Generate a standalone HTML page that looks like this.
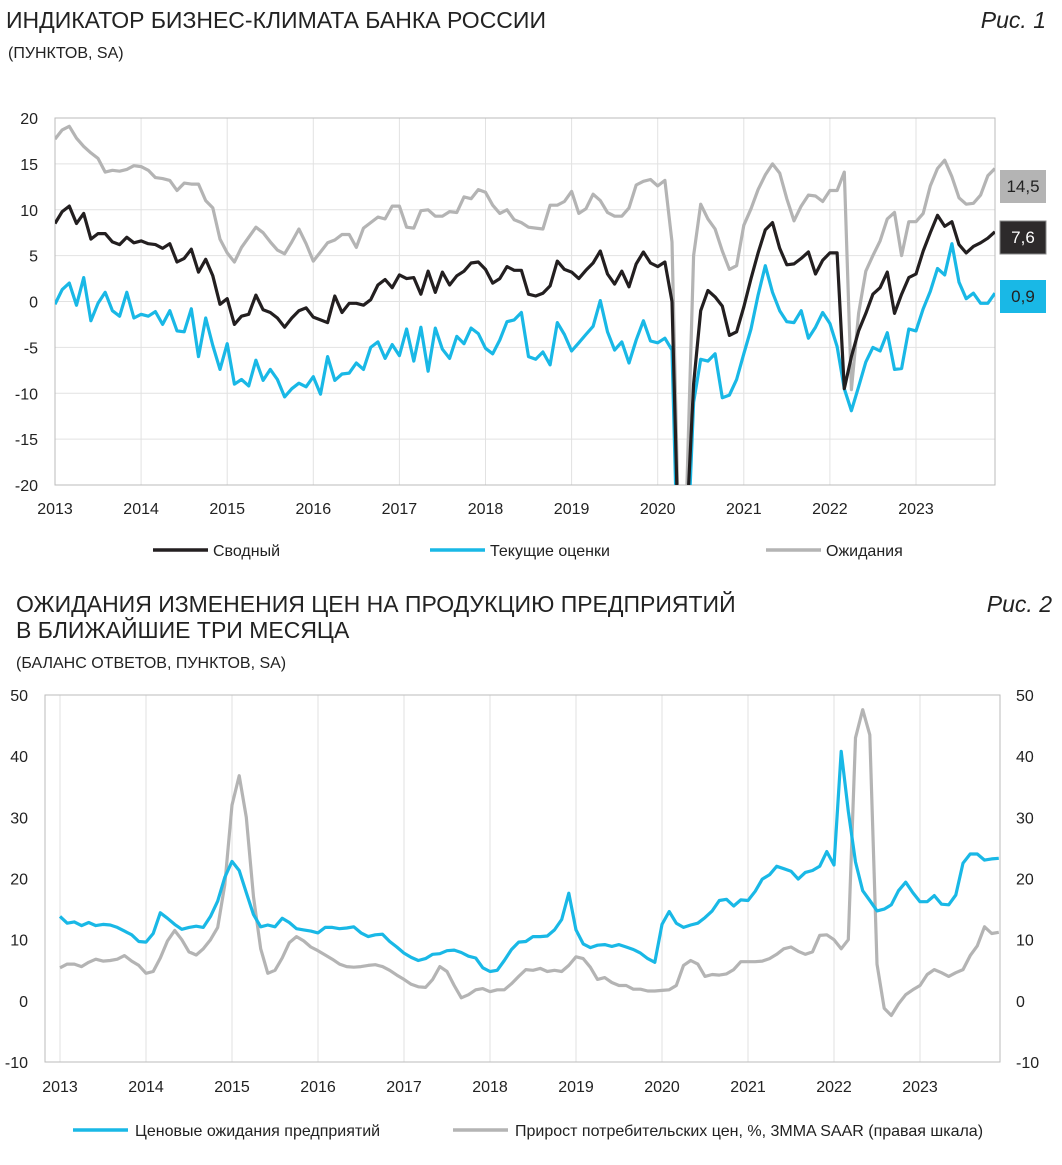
<!DOCTYPE html>
<html><head><meta charset="utf-8"><style>
body{margin:0;background:#fff;font-family:"Liberation Sans",sans-serif;}
svg text{font-family:"Liberation Sans",sans-serif;}
</style></head><body>
<svg width="1062" height="1160" xmlns="http://www.w3.org/2000/svg" id="root">
<text x="6" y="28" font-size="23" fill="#222">ИНДИКАТОР БИЗНЕС-КЛИМАТА БАНКА РОССИИ</text>
<text x="8" y="58" font-size="16" fill="#222">(ПУНКТОВ, SA)</text>
<text x="1046" y="28" font-size="23" font-style="italic" fill="#222" text-anchor="end">Рис. 1</text>
<text x="16" y="612" font-size="23" fill="#222">ОЖИДАНИЯ ИЗМЕНЕНИЯ ЦЕН НА ПРОДУКЦИЮ ПРЕДПРИЯТИЙ</text>
<text x="16" y="638" font-size="23" fill="#222">В БЛИЖАЙШИЕ ТРИ МЕСЯЦА</text>
<text x="16" y="668" font-size="16" fill="#222">(БАЛАНС ОТВЕТОВ, ПУНКТОВ, SA)</text>
<text x="1052" y="612" font-size="23" font-style="italic" fill="#222" text-anchor="end">Рис. 2</text>
<g id="c1"></g><g id="c2"></g>
</svg>
<script>
const years=["2013","2014","2015","2016","2017","2018","2019","2020","2021","2022","2023"];
const c1Ticks=[20,15,10,5,0,-5,-10,-15,-20];
const c2Ticks=[50,40,30,20,10,0,-10];
const composite=[8.5,9.8,10.4,8.5,9.6,6.8,7.4,7.4,6.5,6.2,7.0,6.4, 6.6,6.3,6.2,5.8,6.3,4.3,4.7,5.7,3.2,4.6,2.8,-0.3, 0.3,-2.5,-1.6,-1.4,0.7,-0.9,-1.2,-1.8,-2.8,-1.8,-1.0,-0.7, -1.7,-2.0,-2.3,0.6,-1.2,-0.2,-0.2,-0.4,0.2,1.8,2.4,1.5, 2.9,2.5,2.6,0.8,3.3,1.0,3.2,1.8,2.8,3.3,4.2,4.3, 3.5,2.0,2.5,3.8,3.4,3.4,0.8,0.6,0.9,1.7,4.4,3.5, 3.2,2.5,3.4,4.2,5.5,3.0,1.9,3.3,1.6,4.1,5.4,4.2, 3.8,4.3,0.0,-30,-25,-9,-1,1.2,0.5,-0.5,-3.7,-3.3, -0.6,2.5,5.3,7.8,8.6,5.8,4.0,4.1,4.7,5.4,3.0,4.5, 5.3,5.3,-9.5,-6.0,-3.2,-1.3,0.8,1.5,3.2,-1.3,0.8,2.6, 3.0,5.5,7.5,9.4,8.2,8.7,6.2,5.3,6.0,6.4,6.9,7.6];
const current=[-0.3,1.3,2.0,-0.4,2.6,-2.1,-0.2,1.0,-1.0,-1.6,1.0,-1.8, -1.4,-1.6,-1.1,-2.5,-1.0,-3.2,-3.3,-0.8,-6.0,-1.8,-4.8,-7.4, -4.6,-9.0,-8.5,-9.2,-6.4,-8.6,-7.4,-8.5,-10.4,-9.5,-8.9,-9.3, -8.2,-10.1,-6.0,-8.6,-7.9,-7.8,-6.7,-7.4,-5.0,-4.4,-6.2,-4.7, -5.9,-3.0,-6.5,-2.8,-7.6,-2.9,-5.2,-6.2,-3.8,-4.6,-2.9,-3.5, -5.1,-5.7,-4.2,-2.2,-2.0,-1.2,-6.0,-6.3,-5.5,-6.9,-2.3,-3.6, -5.4,-4.5,-3.6,-2.7,0.1,-3.3,-5.3,-4.4,-6.7,-4.2,-2.1,-4.3, -4.5,-4.0,-5.3,-35,-30,-11,-6.3,-6.5,-5.7,-10.5,-10.2,-8.5, -5.7,-3.0,0.7,3.9,1.0,-1.0,-2.2,-2.3,-1.0,-4.0,-2.8,-1.2, -2.4,-4.9,-9.5,-11.9,-9.3,-6.6,-5.0,-5.4,-3.4,-7.4,-7.3,-3.0, -3.2,-0.8,1.1,3.6,2.9,6.3,2.1,0.3,0.9,-0.2,-0.2,0.9];
const expect1=[17.7,18.7,19.1,17.8,16.9,16.2,15.6,14.1,14.3,14.2,14.4,14.8, 14.7,14.3,13.5,13.4,13.2,12.1,12.9,12.8,12.8,11.0,10.2,6.8, 5.3,4.3,5.9,7.0,8.1,7.5,6.5,5.6,5.2,6.5,7.9,6.3, 4.4,5.4,6.4,6.7,7.3,7.3,5.9,8.0,8.6,9.2,9.0,10.4, 10.4,8.1,8.0,9.9,10.0,9.3,9.3,9.8,9.7,11.4,11.2,12.2, 11.9,10.5,9.6,10.0,8.9,8.6,8.1,8.0,7.9,10.5,10.5,10.9, 12.0,9.6,10.1,11.7,11.0,9.7,9.3,9.3,10.2,12.7,13.1,13.3, 12.6,13.2,6.5,-28,-22,5.0,10.6,9.0,7.9,5.5,3.5,3.9, 8.3,10.1,12.2,13.8,15.0,14.0,11.2,8.8,10.4,11.6,11.5,10.9, 12.1,12.1,14.1,-9.6,-1.3,3.3,5.0,6.6,9.0,9.7,5.0,8.7, 8.7,9.6,12.6,14.5,15.4,13.6,11.3,10.6,10.7,11.6,13.7,14.5];
const priceExp=[13.8,12.7,12.9,12.3,12.8,12.3,12.5,12.4,12.0,11.4,10.8,9.7, 9.6,11.0,14.4,13.5,12.5,11.7,12.0,12.2,12.0,13.8,16.3,20.2, 22.8,21.3,17.7,14.1,12.1,12.4,12.1,13.5,12.8,11.8,11.6,11.4, 11.1,12.0,12.0,11.8,11.9,12.1,11.1,10.5,10.8,10.9,9.7,8.8, 7.8,7.1,6.6,6.9,7.6,7.7,8.2,8.3,7.9,7.3,7.0,5.4, 4.8,5.0,6.6,8.4,9.6,9.7,10.5,10.5,10.6,11.6,13.3,17.6, 11.6,9.3,8.7,9.1,9.2,8.9,9.2,8.8,8.4,7.8,6.9,6.3, 12.5,14.6,12.7,12.0,12.4,12.7,13.6,14.7,16.4,16.6,15.5,16.5, 16.4,17.9,19.9,20.6,22.0,21.6,21.2,19.9,21.0,21.3,22.0,24.4, 22.2,40.8,31.0,22.7,18.0,16.4,14.7,15.0,15.7,18.0,19.4,17.7, 16.2,16.2,17.2,15.8,15.7,17.3,22.5,24.0,24.0,23.0,23.2,23.3];
const cpi=[5.4,6.0,6.0,5.6,6.3,6.8,6.5,6.6,6.8,7.4,6.5,5.8, 4.5,4.8,7.0,9.8,11.5,10.0,8.0,7.5,8.5,10.0,12.0,19.0, 32.0,36.8,30.0,17.0,8.5,4.5,5.0,7.0,9.5,10.5,9.8,8.8, 8.2,7.5,6.8,6.0,5.6,5.5,5.6,5.8,5.9,5.6,5.0,4.2, 3.5,2.7,2.3,2.2,3.5,5.6,4.8,2.5,0.5,1.0,1.8,2.0, 1.5,1.8,1.8,2.8,4.0,5.1,5.0,5.3,4.8,5.0,4.8,5.8, 7.2,6.9,5.5,3.5,3.8,3.0,2.5,2.5,1.9,1.9,1.6,1.6, 1.7,1.8,2.5,5.8,6.6,6.0,4.0,4.3,4.2,4.4,5.1,6.4, 6.4,6.4,6.5,6.9,7.6,8.5,8.8,8.1,7.6,8.0,10.7,10.8, 10.0,8.5,10.0,43.0,47.6,43.5,6.0,-1.2,-2.4,-0.5,1.0,1.8, 2.5,4.3,5.1,4.6,4.0,4.6,5.1,7.4,9.0,12.1,11.0,11.2];
const endLabels=["14,5","7,6","0,9"];

const NS="http://www.w3.org/2000/svg";
function mk(parent,tag,attrs){const e=document.createElementNS(NS,tag);for(const k in attrs)e.setAttribute(k,attrs[k]);parent.appendChild(e);return e;}

// chart 1
const g1=document.getElementById('c1');
const c1={x0:55,x1:995,y0:118,y1:485,min:-20,max:20,yr0:55,yrW:86.1};
const x1=i=>c1.yr0+i*c1.yrW/12;
const y1=v=>c1.y1-(v-c1.min)/(c1.max-c1.min)*(c1.y1-c1.y0);
const defs=mk(g1,'defs',{});
const cp=mk(defs,'clipPath',{id:'clip1'});mk(cp,'rect',{x:c1.x0,y:c1.y0,width:c1.x1-c1.x0,height:c1.y1-c1.y0});
c1Ticks.forEach(t=>{
 const l=mk(g1,'line',{x1:c1.x0,x2:c1.x1,y1:y1(t),y2:y1(t),stroke:'#e2e2e2','stroke-width':1});
 
 
 const tx=mk(g1,'text',{x:38,y:y1(t)+6,'font-size':16,'text-anchor':'end',fill:'#222'});tx.textContent=t;
 
 
});
years.forEach((yv,i)=>{
 const xx=x1(i*12);
 const l=mk(g1,'line',{x1:xx,x2:xx,y1:c1.y0,y2:c1.y1,stroke:'#e2e2e2'});
 
 
 const tx=mk(g1,'text',{x:xx,y:514,'font-size':16,'text-anchor':'middle',fill:'#222'});tx.textContent=yv;
 
 
});
const f1=mk(g1,'rect',{x:c1.x0,y:c1.y0,width:c1.x1-c1.x0,height:c1.y1-c1.y0,fill:'none',stroke:'#bbb'});


function line(g,arr,xf,yf,col,name,clip){
 const d=arr.map((v,i)=>(i?'L':'M')+xf(i).toFixed(1)+','+yf(v).toFixed(1)).join('');
 const p=mk(g,'path',{d:d,fill:'none',stroke:col,'stroke-width':3.2,'stroke-linejoin':'round'});
 if(clip)p.setAttribute('clip-path','url(#'+clip+')');
 
 
}
line(g1,expect1,x1,y1,'#b4b4b4','line-expectations','clip1');
line(g1,current,x1,y1,'#19b8e6','line-current','clip1');
line(g1,composite,x1,y1,'#231f20','line-composite','clip1');
// end labels
const lastVals=[expect1[131],composite[131],current[131]];
const lblCols=['#b4b4b4','#2d2a2b','#19b8e6'];
const lblTxt=['#222','#fff','#222'];
const lblY=[186,237,296];
lastVals.forEach((v,i)=>{
 const r=mk(g1,'rect',{x:1000,y:lblY[i]-16,width:46,height:33,fill:lblCols[i],stroke:i==1?'#888':'none'});
 
 
 const t=mk(g1,'text',{x:1023,y:lblY[i]+6,'font-size':17,'text-anchor':'middle',fill:lblTxt[i]});t.textContent=endLabels[i];
 
 
});
const leg1=[['Сводный','#231f20',153],['Текущие оценки','#19b8e6',430],['Ожидания','#b4b4b4',766]];
leg1.forEach(L=>{
 const l=mk(g1,'line',{x1:L[2],x2:L[2]+55,y1:550,y2:550,stroke:L[1],'stroke-width':3.5});
 
 
 const t=mk(g1,'text',{x:L[2]+60,y:556,'font-size':16,fill:'#222'});t.textContent=L[0];
 
 
});

// chart 2
const g2=document.getElementById('c2');
const c2={x0:45,x1:1000,y0:695,y1:1062,min:-10,max:50,yr0:60,yrW:86.0};
const x2=i=>c2.yr0+i*c2.yrW/12;
const y2=v=>c2.y1-(v-c2.min)/(c2.max-c2.min)*(c2.y1-c2.y0);
c2Ticks.forEach(t=>{
 const a=mk(g2,'text',{x:28,y:y2(t)+6,'font-size':16,'text-anchor':'end',fill:'#222'});a.textContent=t;
 
 
 const b=mk(g2,'text',{x:1016,y:y2(t)+6,'font-size':16,fill:'#222'});b.textContent=t;
 
 
});
years.forEach((yv,i)=>{
 const xx=x2(i*12);
 const l=mk(g2,'line',{x1:xx,x2:xx,y1:c2.y0,y2:c2.y1,stroke:'#e2e2e2'});
 
 
 const tx=mk(g2,'text',{x:xx,y:1092,'font-size':16,'text-anchor':'middle',fill:'#222'});tx.textContent=yv;
 
 
});
const f2=mk(g2,'rect',{x:c2.x0,y:c2.y0,width:c2.x1-c2.x0,height:c2.y1-c2.y0,fill:'none',stroke:'#bbb'});


line(g2,cpi,x2,y2,'#b4b4b4','line-cpi-growth',null);
line(g2,priceExp,x2,y2,'#19b8e6','line-price-expectations',null);
const leg2=[['Ценовые ожидания предприятий','#19b8e6',73],['Прирост потребительских цен, %, 3MMA SAAR (правая шкала)','#b4b4b4',453]];
leg2.forEach(L=>{
 const l=mk(g2,'line',{x1:L[2],x2:L[2]+55,y1:1130,y2:1130,stroke:L[1],'stroke-width':3.5});
 
 
 const t=mk(g2,'text',{x:L[2]+62,y:1136,'font-size':16,fill:'#222'});t.textContent=L[0];
 
 
});
</script>
</body></html>
